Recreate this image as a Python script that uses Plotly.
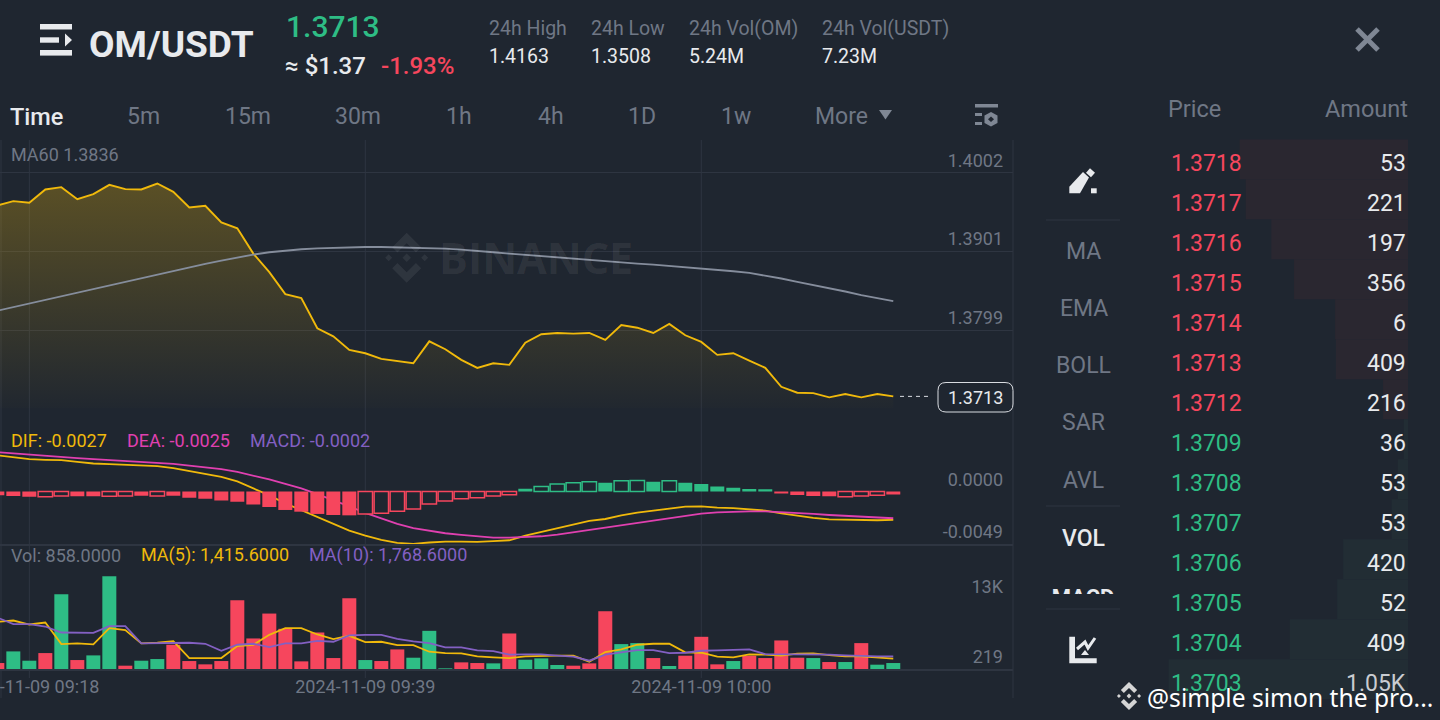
import pandas as pd
import plotly.graph_objects as go

times = pd.date_range("2024-11-09 09:16", periods=57, freq="1min")
grid_times = ["2024-11-09 09:18", "2024-11-09 09:39", "2024-11-09 10:00"]

price = [1.3960, 1.39655, 1.39634, 1.39806, 1.39836, 1.39681, 1.39746, 1.39866, 1.3981, 1.39806, 1.39883, 1.39776,
         1.39574, 1.39595, 1.39381, 1.39304, 1.38978, 1.38738, 1.38455, 1.38403, 1.38013, 1.3791, 1.37734, 1.37691,
         1.37618, 1.37592, 1.37562, 1.37845, 1.37743, 1.37605, 1.37502, 1.37562, 1.37541, 1.37828, 1.37936, 1.37953,
         1.37944, 1.37953, 1.37863, 1.38056, 1.38021, 1.37953, 1.38069, 1.37923, 1.37837, 1.3767, 1.37691, 1.37597,
         1.37502, 1.37258, 1.37181, 1.37176, 1.37121, 1.37164, 1.37121, 1.37164, 1.37134]
ma60 = [1.3824, 1.38287, 1.3833, 1.38373, 1.3842, 1.38467, 1.38519, 1.38566, 1.38613, 1.3866, 1.38708, 1.38755,
        1.38798, 1.38845, 1.38888, 1.38931, 1.38965, 1.38995, 1.39016, 1.39034, 1.39046, 1.39055, 1.39059, 1.39064,
        1.39064, 1.39059, 1.39055, 1.39046, 1.39042, 1.39029, 1.39016, 1.38995, 1.38978, 1.38961, 1.38943, 1.38931,
        1.38913, 1.38901, 1.38883, 1.38866, 1.38849, 1.38836, 1.38819, 1.38806, 1.38793, 1.38772, 1.3875, 1.38729,
        1.38695, 1.38656, 1.38613, 1.38575, 1.38532, 1.38489, 1.38442, 1.38403, 1.38364]
dif = [.00337, .00315, .003, .00294, .00291, .00275, .0026, .00254, .00247, .00241, .00235, .00217, .00192, .00164,
       .00136, .00093, .00031, -.00037, -.00111, -.00176, -.00241, -.00303, -.00365, -.00411, -.00452, -.00479,
       -.00489, -.00476, -.00467, -.00467, -.0047, -.00464, -.00455, -.00411, -.00377, -.00337, -.00303, -.00275,
       -.00257, -.00223, -.00198, -.00179, -.00155, -.00142, -.00139, -.00152, -.00155, -.00164, -.00179, -.00204,
       -.00229, -.00247, -.0026, -.00263, -.00269, -.00269, -.00266]
dea = [.00365, .00353, .0034, .00331, .00322, .00309, .003, .00291, .00285, .00278, .00269, .00257, .00241, .00226,
       .00207, .00182, .00148, .00111, .00071, .00028, -.00025, -.0008, -.00139, -.00201, -.00254, -.00303, -.00343,
       -.00368, -.0039, -.00405, -.00421, -.0043, -.0043, -.00424, -.00418, -.00402, -.0038, -.00359, -.00337, -.00312,
       -.00288, -.00266, -.00244, -.00223, -.00207, -.00195, -.00189, -.00186, -.00186, -.00192, -.00201, -.0021,
       -.0022, -.00229, -.00238, -.00244, -.0025]
macd = [-.00037, -.00043, -.00049, -.00049, -.00043, -.00046, -.00046, -.00046, -.00043, -.0004, -.00043, -.0004,
        -.00059, -.00068, -.00084, -.00096, -.00121, -.00145, -.00173, -.00189, -.0021, -.0022, -.00223, -.0021,
        -.00204, -.00186, -.00164, -.00118, -.0009, -.00068, -.00059, -.00043, -.00031, .00025, .00046, .00068, .0008,
        .0009, .0008, .00099, .00102, .0009, .00099, .0008, .00068, .00046, .00034, .00022, .00019, -.00019, -.00034,
        -.00043, -.00046, -.00049, -.00043, -.00037, -.00028]
macd_hollow = [0, 0, 0, 1, 1, 0, 0, 1, 1, 0, 1, 0, 0, 0, 0, 0, 0, 0, 0, 0, 0, 0, 0, 1, 1, 1, 1, 1, 1, 1, 1, 1, 1,
               0, 1, 1, 1, 1, 0, 1, 1, 0, 1, 0, 0, 0, 0, 0, 0, 0, 0, 0, 0, 1, 1, 1, 0]
vol = [1304, 3415, 1727, 3113, 13787, 1847, 2691, 17043, 822, 1727, 2028, 4621, 1666, 1063, 1666, 12701, 5767, 10289,
       7515, 1606, 6852, 2209, 13063, 1847, 1666, 3777, 2269, 7154, 340, 1425, 1304, 1244, 6671, 1907, 2149, 943, 822,
       1244, 10711, 4742, 4922, 2209, 762, 2631, 6068, 1063, 1666, 2631, 2209, 5405, 2269, 2209, 1485, 1485, 4922,
       1003, 1304]
vol_side = ["d", "u", "u", "d", "u", "d", "u", "u", "d", "u", "u", "d", "d", "d", "d", "d", "d", "d", "d", "d", "d",
            "d", "d", "u", "d", "d", "u", "u", "u", "d", "d", "u", "d", "u", "u", "u", "d", "d", "d", "u", "u", "d",
            "u", "d", "d", "d", "u", "d", "d", "d", "d", "u", "d", "u", "d", "u", "u"]
ma5 = [8782, 9023, 8299, 8661, 4742, 4862, 4681, 7636, 7274, 4862, 4983, 5284, 2209, 2209, 2209, 4380, 4621, 6430, 7636,
       7636, 6490, 5646, 6249, 5103, 5164, 4561, 4561, 3355, 3113, 3053, 2510, 2330, 2209, 2510, 2631, 2631, 2631, 1546,
       3294, 3777, 4621, 4802, 4802, 3234, 3174, 2450, 2330, 2872, 2812, 2631, 2993, 3053, 2752, 2510, 2510, 2269, 2088]
ma10 = [9566, 8360, 8360, 7937, 6852, 6792, 6792, 7998, 7998, 4862, 4862, 4983, 4983, 4802, 3536, 4621, 4802, 4199, 4862,
        4862, 5345, 5164, 6309, 6430, 6430, 5706, 5224, 4922, 4139, 4139, 3596, 3475, 2812, 2872, 2872, 2631, 2450, 1727,
        2812, 3234, 3656, 3656, 3113, 3174, 3536, 3596, 3656, 3777, 2933, 2933, 2812, 2812, 2812, 2691, 2571, 2510, 2510]

book_price = ["1.3718", "1.3717", "1.3716", "1.3715", "1.3714", "1.3713", "1.3712",
              "1.3709", "1.3708", "1.3707", "1.3706", "1.3705", "1.3704", "1.3703"]
book_amount = ["53", "221", "197", "356", "6", "409", "216", "36", "53", "53", "420", "52", "409", "1.05K"]
book_depth = [1458, 1405, 1184, 987, 631, 625, 216, 36, 89, 142, 562, 614, 1023, 2073]
book_side = ["d"] * 7 + ["u"] * 7

stats_labels = ["24h High", "24h Low", "24h Vol(OM)", "24h Vol(USDT)"]
stats_values = ["1.4163", "1.3508", "5.24M", "7.23M"]
tabs = ["5m", "15m", "30m", "1h", "4h", "1D", "1w"]

BG = "#1f2630"
GRID = "#2e3541"
GREEN = "#2ebd85"
RED = "#f6465d"
YELLOW = "#f0b90b"
MAGENTA = "#e040b0"
PURPLE = "#8360c3"
GRAY = "#6f7785"
WHITE = "#e8eaed"
FONT = "Roboto"
W, H = 1440, 720


def px(x):
    return x / W


def py(y):
    return 1 - y / H


def poly(points, close=True):
    s = "M " + " L ".join(f"{px(a):.5f} {py(b):.5f}" for a, b in points)
    return s + (" Z" if close else "")


annotations = []


def txt(x, y, text, size, color, anchor="left", weight=400, family=FONT):
    dx = {"left": -1, "right": 1, "center": 0}[anchor]
    annotations.append(dict(x=px(x + dx), y=py(y + 0.7), xref="paper", yref="paper", text=text, showarrow=False,
                            xanchor=anchor, yanchor="middle", borderpad=0,
                            font=dict(family=family, size=size, color=color, weight=weight)))


shapes = []


def filled(points, color):
    shapes.append(dict(type="path", xref="paper", yref="paper", path=poly(points), fillcolor=color, line_width=0))


def hline(x0, x1, y, color=GRID, width=1):
    shapes.append(dict(type="line", xref="paper", yref="paper", x0=px(x0), x1=px(x1), y0=py(y), y1=py(y),
                       line=dict(color=color, width=width)))


def logo(cx, cy, r, color):
    for dx, hw in [(0, .17), (-.72, .14), (.72, .14)]:
        filled([(cx + (dx - hw) * r, cy), (cx + dx * r, cy - hw * r), (cx + (dx + hw) * r, cy), (cx + dx * r, cy + hw * r)], color)
    for sgn in (-1, 1):
        filled([(cx, cy + sgn * r), (cx + .58 * r, cy + sgn * .42 * r), (cx + .37 * r, cy + sgn * .21 * r),
                (cx, cy + sgn * .58 * r), (cx - .37 * r, cy + sgn * .21 * r), (cx - .58 * r, cy + sgn * .42 * r)], color)


fig = go.Figure()
# price panel
fig.add_trace(go.Scatter(x=times, y=price, mode="lines", xaxis="x", yaxis="y", line=dict(color=YELLOW, width=1.9),
                         fill="tozeroy",
                         fillgradient=dict(type="vertical", start=1.3698, stop=1.3985,
                                           colorscale=[[0, "rgba(240,185,11,0.01)"], [1, "rgba(240,185,11,0.28)"]])))
fig.add_trace(go.Scatter(x=times, y=ma60, mode="lines", xaxis="x", yaxis="y", line=dict(color="#858d9c", width=1.9)))
# macd panel
fig.add_trace(go.Scatter(x=times, y=dif, mode="lines", xaxis="x2", yaxis="y2", line=dict(color=YELLOW, width=1.8)))
fig.add_trace(go.Scatter(x=times, y=dea, mode="lines", xaxis="x2", yaxis="y2", line=dict(color=MAGENTA, width=1.8)))
macd_col = [GREEN if v > 0 else RED for v in macd]
fig.add_trace(go.Bar(x=times, y=macd, xaxis="x2", yaxis="y4",
                     width=[54000 if h else 52500 for h in macd_hollow],
                     marker=dict(color=[BG if h else c for h, c in zip(macd_hollow, macd_col)],
                                 line=dict(color=macd_col, width=[1.5 if h else 0 for h in macd_hollow]))))
# volume panel
fig.add_trace(go.Bar(x=times, y=vol, xaxis="x3", yaxis="y3", width=52500,
                     marker=dict(color=[GREEN if s == "u" else RED for s in vol_side], line_width=0)))
fig.add_trace(go.Scatter(x=times, y=ma5, mode="lines", xaxis="x3", yaxis="y3", line=dict(color=YELLOW, width=1.8)))
fig.add_trace(go.Scatter(x=times, y=ma10, mode="lines", xaxis="x3", yaxis="y3", line=dict(color=PURPLE, width=1.8)))
# order book depth
fig.add_trace(go.Bar(x=book_depth, y=book_price, orientation="h", xaxis="x5", yaxis="y5", width=1,
                     marker=dict(color=["#2a2730" if s == "d" else "#222d34" for s in book_side], line_width=0)))
# clipped menu label
fig.add_trace(go.Scatter(x=[0.5], y=[599], mode="text", text=["MACD"], xaxis="x6", yaxis="y6", cliponaxis=True,
                         textfont=dict(family=FONT, size=22, color=WHITE, weight=700), textposition="middle center"))

xrange = ["2024-11-09 09:16:10", "2024-11-09 10:19:29"]
xdom = [0, px(1013)]
common_x = dict(type="date", range=xrange, domain=xdom, showgrid=False, zeroline=False, tickmode="array",
                tickvals=[], showticklabels=False, fixedrange=True, automargin=False)
common_y = dict(side="right", ticklabelposition="inside", ticks="", zeroline=False, tickmode="array", fixedrange=True,
                tickfont=dict(family=FONT, size=18, color=GRAY), ticklabelstandoff=7, ticklabelshift=-12,
                ticklabeloverflow="allow", automargin=False)


def ydom(top, bottom):
    return [py(bottom), py(top)]


fig.update_layout(
    width=W, height=H, margin=dict(l=0, r=0, t=0, b=0, autoexpand=False), paper_bgcolor=BG, plot_bgcolor=BG,
    showlegend=False, hovermode=False, barmode="overlay",
    xaxis=dict(common_x, anchor="y"),
    yaxis=dict(common_y, anchor="x", domain=ydom(140, 408.3), range=[1.3698, 1.40445],
               tickvals=[1.4002, 1.3901, 1.3799, 1.3698], ticktext=["1.4002", "1.3901", "1.3799", " "],
               showgrid=True, gridcolor=GRID, gridwidth=1),
    xaxis2=dict(common_x, anchor="y2", showline=True, linecolor=GRID, linewidth=1.5),
    yaxis2=dict(common_y, anchor="x2", domain=ydom(408.3, 544), range=[-0.0049, 0.00774],
                tickvals=[0, -0.0049], ticktext=["0.0000", "-0.0049"], showgrid=False),
    yaxis4=dict(overlaying="y2", anchor="x2", range=[-0.0049, 0.00774], visible=False, fixedrange=True),
    xaxis3=dict(common_x, anchor="y3", showline=True, linecolor=GRID, linewidth=1.5, tickvals=grid_times,
                showticklabels=True, tickformat="%Y-%m-%d %H:%M", ticks="", ticklabeloverflow="allow",
                tickfont=dict(family=FONT, size=18, color=GRAY), ticklabelstandoff=1),
    yaxis3=dict(common_y, anchor="x3", domain=ydom(544, 669), range=[219, 22922], tickvals=[13000, 219],
                ticktext=["13K", "219"], showgrid=False),
    xaxis5=dict(domain=[px(1168), px(1408)], anchor="y5", range=[2078, 0], visible=False, fixedrange=True),
    yaxis5=dict(domain=ydom(139.3, 699.3), anchor="x5", type="category", categoryorder="array",
                categoryarray=book_price, range=[13.5, -0.5], visible=False, fixedrange=True),
    xaxis6=dict(domain=[px(1046), px(1120)], anchor="y6", range=[0, 1], visible=False, fixedrange=True),
    yaxis6=dict(domain=ydom(575, 594), anchor="x6", range=[594, 575], visible=False, fixedrange=True),
)

# vertical chart grid and right border
for t in grid_times:
    shapes.append(dict(type="line", xref="x", yref="paper", x0=t, x1=t, y0=py(140), y1=py(678),
                       line=dict(color=GRID, width=1), layer="below"))
shapes.append(dict(type="line", xref="paper", yref="paper", x0=px(1013), x1=px(1013), y0=py(140), y1=py(698),
                   line=dict(color=GRID, width=1)))
shapes.append(dict(type="line", xref="paper", yref="paper", x0=px(1), x1=px(1), y0=py(140), y1=py(698),
                   line=dict(color=GRID, width=1), layer="below"))

# last price line and tag
shapes.append(dict(type="line", xref="paper", yref="y", x0=px(900), x1=px(932), y0=price[-1], y1=price[-1],
                   line=dict(color="#d9dce1", width=1, dash="4px,4px")))
l, r, t_, b, c = 938, 1013, 382.5, 412, 8
shapes.append(dict(type="path", xref="paper", yref="paper", fillcolor=BG, line=dict(color="#d9dce1", width=1),
                   path=(f"M {px(l + c)} {py(t_)} L {px(r - c)} {py(t_)} Q {px(r)} {py(t_)} {px(r)} {py(t_ + c)} "
                         f"L {px(r)} {py(b - c)} Q {px(r)} {py(b)} {px(r - c)} {py(b)} L {px(l + c)} {py(b)} "
                         f"Q {px(l)} {py(b)} {px(l)} {py(b - c)} L {px(l)} {py(t_ + c)} Q {px(l)} {py(t_)} {px(l + c)} {py(t_)} Z")))
txt(975.5, 397, "1.3713", 18, WHITE, "center")

# watermark
logo(406.7, 257.7, 25, "rgba(255,255,255,0.07)")
txt(536, 257, "BINANCE", 43, "rgba(255,255,255,0.07)", "center", 700, "Open Sans")

# indicator captions
txt(11, 153.5, "MA60 1.3836", 18, GRAY)
txt(11, 439.5, "DIF: -0.0027", 18, YELLOW)
txt(127, 439.5, "DEA: -0.0025", 18, MAGENTA)
txt(250, 439.5, "MACD: -0.0002", 18, PURPLE)
txt(11, 554.5, "Vol: 858.0000", 18, GRAY)
txt(141, 554.5, "MA(5): 1,415.6000", 18, YELLOW)
txt(309, 554.5, "MA(10): 1,768.6000", 18, PURPLE)

# header
for y0, y1, x1 in [(24, 29.5, 72), (37.3, 42.7, 59), (50, 55.6, 72)]:
    filled([(40, y0), (x1, y0), (x1, y1), (40, y1)], WHITE)
filled([(65, 33.5), (72, 40), (65, 46.5)], WHITE)
txt(89, 43.5, "OM/USDT", 37, WHITE, weight=700)
txt(286, 26, "1.3713", 30, GREEN, weight=500)
txt(285, 65.5, "≈ $1.37", 24, WHITE, weight=500)
txt(381, 65.5, "-1.93%", 24, RED, weight=500)
for x, a, v in zip([489, 591, 689, 822], stats_labels, stats_values):
    txt(x, 27.5, a, 19.5, GRAY)
    txt(x, 55.5, v, 19.5, WHITE)
shapes.append(dict(type="path", xref="paper", yref="paper", line=dict(color="#7f8794", width=5),
                   path=poly([(1357, 29), (1378, 50)], False)))
shapes.append(dict(type="path", xref="paper", yref="paper", line=dict(color="#7f8794", width=5),
                   path=poly([(1378, 29), (1357, 50)], False)))

# interval tabs
txt(10, 116, "Time", 23.5, WHITE, weight=500)
for x, a in zip([143.5, 248, 358, 459, 551, 642, 736], tabs):
    txt(x, 116, a, 23, GRAY, "center")
txt(815, 116, "More", 23, GRAY)
filled([(879, 110), (892, 110), (885.5, 119.5)], "#7f8794")
filled([(975, 104), (998, 104), (998, 107.5), (975, 107.5)], "#7f8794")
filled([(975, 113), (982, 113), (982, 116), (975, 116)], "#7f8794")
filled([(975, 122), (982, 122), (982, 125), (975, 125)], "#7f8794")
filled([(991, 112), (997.5, 115.5), (997.5, 123), (991, 126.5), (984.5, 123), (984.5, 115.5)], "#7f8794")
filled([(991, 116.5), (994, 119.3), (991, 122), (988, 119.3)], BG)

# side menu
filled([(1069.3, 193.3), (1069.3, 186.7), (1083, 172), (1089, 177.5), (1080, 193.3)], WHITE)
filled([(1086, 172.7), (1090, 168.3), (1095, 172.7), (1091, 177.3)], WHITE)
filled([(1091, 188.3), (1096.7, 188.3), (1096.7, 193.3), (1091, 193.3)], WHITE)
for y in (220, 506, 609):
    hline(1046, 1120, y)
for y, a in zip([251, 308, 365, 422, 480], ["MA", "EMA", "BOLL", "SAR", "AVL"]):
    txt(1083.5, y, a, 23, GRAY, "center")
txt(1083.5, 538, "VOL", 23, WHITE, "center", 500)
filled([(1069.3, 636.7), (1075, 636.7), (1075, 658.3), (1096.7, 658.3), (1096.7, 663.3), (1069.3, 663.3)], WHITE)
shapes.append(dict(type="path", xref="paper", yref="paper", line=dict(color=WHITE, width=3),
                   path=poly([(1077, 649), (1085, 642), (1088, 648), (1095, 638)], False)))
filled([(1081, 655), (1089, 655), (1085, 650)], WHITE)

# order book text
txt(1168, 108, "Price", 23.5, GRAY)
txt(1408, 108, "Amount", 23.5, GRAY, "right")
for k, (p, a, s) in enumerate(zip(book_price, book_amount, book_side)):
    y = 163 + 40 * k
    txt(1171, y, p, 23, RED if s == "d" else GREEN)
    txt(1406, y, a, 23, WHITE if k < 13 else "#c9ccd1", "right")

# source credit
logo(1129, 696, 14, "#d5d5d5")
txt(1147, 696.5, "@simple simon the pro...", 24.6, "#ffffff", family="Noto Sans")

fig.update_layout(shapes=shapes, annotations=annotations)
fig.write_html("out.html", config={"displayModeBar": False},
               post_script="document.body.style.margin='0';document.body.style.overflow='hidden';")
